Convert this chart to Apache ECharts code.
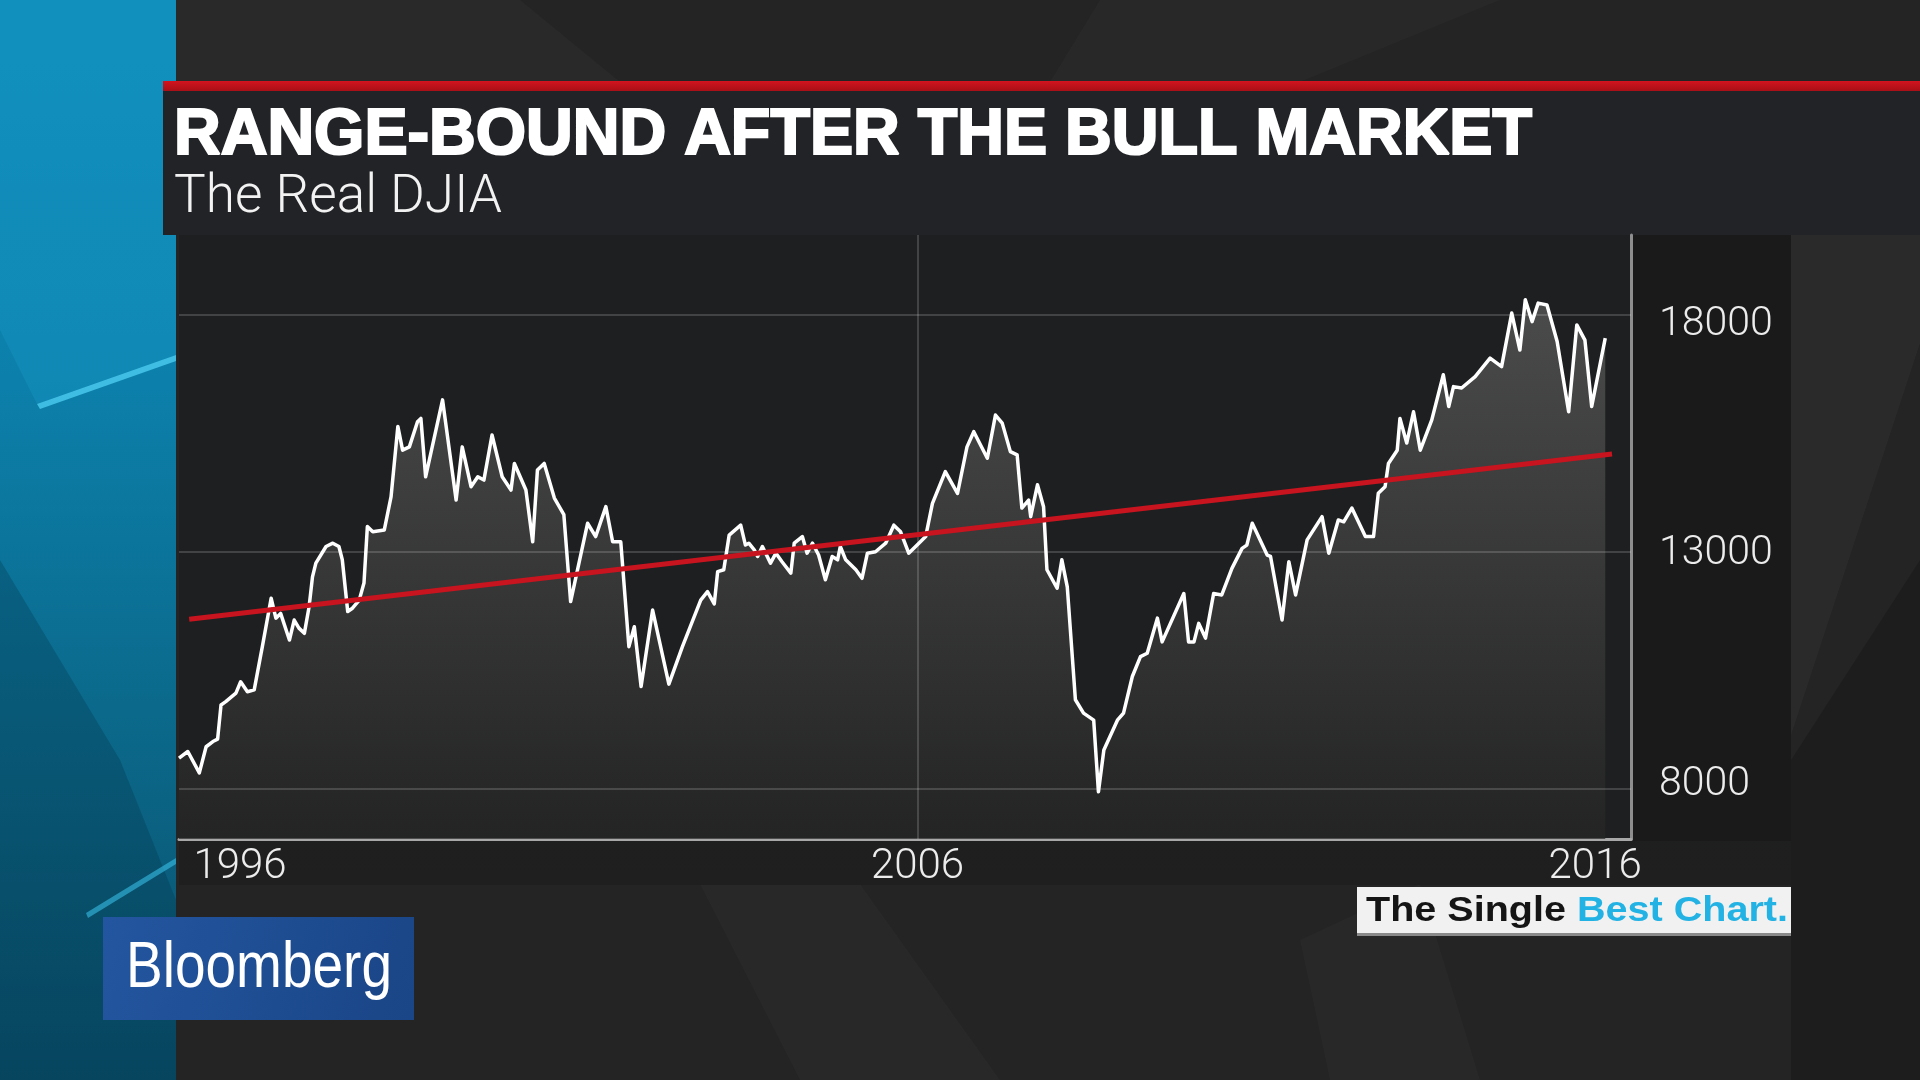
<!DOCTYPE html>
<html><head><meta charset="utf-8">
<script src="https://cdn.jsdelivr.net/npm/echarts@6/dist/echarts.min.js"></script>
<style>html,body{margin:0;padding:0;background:#242424;overflow:hidden}#c{width:1920px;height:1080px}</style>
</head><body><div id="c"></div>
<script>
// ---- data (decimal year, real DJIA level) ----
const years = [1995.10,1995.23,1995.40,1995.50,1995.60,1995.67,1995.72,1995.79,1995.94,1996.01,1996.11,1996.21,1996.33,1996.46,1996.53,1996.60,1996.73,1996.80,1996.87,1996.95,1997.02,1997.07,1997.12,1997.27,1997.37,1997.46,1997.51,1997.59,1997.66,1997.76,1997.83,1997.88,1997.96,1998.13,1998.23,1998.33,1998.40,1998.50,1998.62,1998.67,1998.74,1998.99,1999.19,1999.28,1999.41,1999.51,1999.60,1999.72,1999.87,2000.00,2000.05,2000.22,2000.32,2000.39,2000.49,2000.64,2000.78,2000.88,2001.13,2001.25,2001.40,2001.50,2001.62,2001.74,2001.82,2001.92,2002.09,2002.33,2002.53,2002.80,2002.90,2003.00,2003.05,2003.14,2003.22,2003.39,2003.46,2003.51,2003.59,2003.64,2003.71,2003.83,2003.91,2004.00,2004.13,2004.18,2004.30,2004.37,2004.45,2004.54,2004.64,2004.74,2004.82,2004.86,2004.94,2005.09,2005.18,2005.26,2005.38,2005.53,2005.65,2005.75,2005.87,2006.02,2006.12,2006.22,2006.41,2006.59,2006.73,2006.83,2007.03,2007.15,2007.25,2007.37,2007.47,2007.54,2007.64,2007.67,2007.77,2007.86,2007.91,2008.06,2008.13,2008.21,2008.33,2008.45,2008.60,2008.67,2008.75,2008.95,2009.04,2009.17,2009.29,2009.39,2009.54,2009.61,2009.93,2010.00,2010.08,2010.15,2010.25,2010.37,2010.49,2010.64,2010.79,2010.86,2010.94,2011.16,2011.21,2011.38,2011.48,2011.58,2011.75,2011.97,2012.07,2012.21,2012.29,2012.41,2012.61,2012.73,2012.80,2012.90,2012.95,2013.08,2013.12,2013.22,2013.32,2013.42,2013.59,2013.76,2013.84,2013.91,2014.03,2014.23,2014.45,2014.62,2014.77,2014.89,2014.97,2015.07,2015.16,2015.29,2015.44,2015.61,2015.73,2015.85,2015.95,2016.15];
const djia = [8650,8790,8340,8890,9000,9050,9770,9840,10020,10260,10050,10090,11000,12020,11600,11700,11140,11560,11390,11280,11840,12470,12760,13110,13180,13110,12830,11740,11810,11980,12340,13530,13420,13460,14160,15640,15140,15210,15740,15810,14580,16200,14090,15210,14370,14580,14510,15460,14580,14300,14860,14300,13210,14720,14860,14130,13780,11950,13600,13320,13950,13210,13210,11000,11420,10160,11770,10210,11000,11980,12160,11900,12580,12620,13350,13560,13140,13180,13040,12900,13110,12760,12970,12790,12550,13180,13320,12970,13180,12930,12410,12900,12830,13110,12830,12620,12440,12970,13000,13180,13560,13420,12970,13180,13320,14020,14690,14230,15210,15530,14970,15880,15710,15110,15040,13920,14090,13740,14410,13950,12620,12230,12830,12260,9880,9600,9450,7940,8820,9450,9600,10370,10790,10860,11600,11100,12120,11100,11100,11490,11180,12120,12090,12650,13070,13140,13600,12930,12900,11560,12790,12090,13250,13740,12970,13670,13630,13920,13320,13320,14230,14370,14860,15140,15810,15290,15950,15140,15780,16730,16060,16480,16450,16690,17080,16900,18030,17250,18310,17850,18240,18200,17430,15950,17780,17460,16060,17500];
const trendYears = [1995.25, 2016.25];
const trendValues = [11576, 15060];
const xTickLabels = ['1996', '2006', '2016'];
const yTickLabels = ['8000', '13000', '18000'];
const gridYears = [2006];
const titleText = 'RANGE-BOUND AFTER THE BULL MARKET';
const subtitleText = 'The Real DJIA';

// ---- build ----
const pairs = years.map((y, i) => [y, djia[i]]);
const trendPairs = trendYears.map((y, i) => [y, trendValues[i]]);
const xTicks = xTickLabels.map(Number);
const yTicks = yTickLabels.map(Number);

const mctx = document.createElement('canvas').getContext('2d');
function fit(text, font, w) { mctx.font = font; return w / mctx.measureText(text).width; }

const narrowFam = '"Liberation Sans Narrow", "Liberation Sans", sans-serif';
const titleFont = 'bold 65px "Liberation Sans", sans-serif';
const subFont = '300 53px Roboto, sans-serif';
const sbcFont = 'bold 35px ' + narrowFam;
const bbFont = '64px "Liberation Sans", sans-serif';

const chart = echarts.init(document.getElementById('c'), null, {renderer: 'canvas', width: 1920, height: 1080});

const gridColor = 'rgba(255,255,255,0.16)';
const markData = yTicks.map(v => ({yAxis: v})).concat(gridYears.map(v => ({xAxis: v})));
const yLabelBase = {color: '#ececec', fontSize: 41, fontFamily: 'Roboto', fontWeight: 300};
// small per-label nudges so the numbers sit where the reference puts them
const yRich = {
  t0: Object.assign({padding: [0, 0, 8, 0]}, yLabelBase),
  t1: Object.assign({padding: [4, 0, 0, 0]}, yLabelBase),
  t2: Object.assign({padding: [21, 0, 0, 0]}, yLabelBase)
};

chart.setOption({
  animation: false,
  backgroundColor: '#242424',
  grid: {left: 179, right: 289, top: 235, bottom: 241, show: true, backgroundColor: '#1e1f21', borderWidth: 0},
  xAxis: {
    type: 'value', min: 1995.10, max: 2016.53,
    axisLine: {show: true, lineStyle: {color: '#a8a8a8', width: 3}},
    axisTick: {show: false},
    splitLine: {show: false},
    axisLabel: {customValues: xTicks, formatter: v => String(Math.round(v)), color: '#ececec',
      fontSize: 42, fontFamily: 'Roboto', fontWeight: 300, margin: 7, lineHeight: 42}
  },
  yAxis: {
    type: 'value', position: 'right', min: 6946, max: 19675,
    axisLine: {show: true, lineStyle: {color: '#8e8e8e', width: 3}},
    axisTick: {show: false},
    splitLine: {show: false},
    axisLabel: Object.assign({customValues: yTicks, margin: 28,
      formatter: v => '{t' + yTicks.indexOf(v) + '|' + String(v) + '}', rich: yRich}, yLabelBase)
  },
  series: [
    {
      type: 'line', data: pairs, z: 1, showSymbol: false, silent: true,
      lineStyle: {width: 0, opacity: 0},
      areaStyle: {color: new echarts.graphic.LinearGradient(0, 0, 0, 1, [
        {offset: 0, color: '#5e5e5e'}, {offset: 0.5, color: '#424242'}, {offset: 1, color: '#262626'}])},
      markLine: {z: 2, silent: true, symbol: 'none', label: {show: false},
        lineStyle: {color: gridColor, width: 2, type: 'solid'}, emphasis: {disabled: true}, data: markData}
    },
    {
      type: 'line', data: pairs, z: 3, showSymbol: false, silent: true,
      lineStyle: {color: '#ffffff', width: 3.5, join: 'round'}
    },
    {
      type: 'line', data: trendPairs, z: 4, showSymbol: false, silent: true,
      lineStyle: {color: '#c7141e', width: 5}
    }
  ],
  graphic: [
    // teal band at left
    {type: 'rect', z: -20, shape: {x: 0, y: 0, width: 176, height: 1080},
      style: {fill: new echarts.graphic.LinearGradient(0, 0, 0, 1, [
        {offset: 0, color: '#0e8ab7'}, {offset: 0.35, color: '#0c80ab'}, {offset: 0.65, color: '#0b6a8c'}, {offset: 1, color: '#0a4f6a'}])}},
    {type: 'polygon', z: -19, shape: {points: [[0, 0], [176, 0], [176, 355], [37, 404], [0, 330]]}, style: {fill: 'rgba(30,170,220,0.22)'}},
    {type: 'polygon', z: -19, shape: {points: [[0, 560], [120, 760], [176, 900], [176, 1080], [0, 1080]]}, style: {fill: 'rgba(0,40,60,0.25)'}},
    {type: 'polygon', z: -19, shape: {points: [[37, 404], [176, 355], [176, 361], [40, 409]]}, style: {fill: 'rgba(80,210,245,0.75)'}},
    {type: 'polygon', z: -19, shape: {points: [[176, 858], [176, 864], [88, 918], [86, 913]]}, style: {fill: 'rgba(60,200,240,0.55)'}},
    // background facets
    {type: 'polygon', z: -18, shape: {points: [[176, 0], [520, 0], [620, 82], [176, 82]]}, style: {fill: 'rgba(255,255,255,0.025)'}},
    {type: 'polygon', z: -18, shape: {points: [[1100, 0], [1500, 0], [1300, 82], [1050, 82]]}, style: {fill: 'rgba(255,255,255,0.02)'}},
    {type: 'polygon', z: -18, shape: {points: [[1791, 235], [1920, 235], [1920, 343], [1791, 735]]}, style: {fill: 'rgba(255,255,255,0.03)'}},
    {type: 'polygon', z: -18, shape: {points: [[1791, 760], [1920, 560], [1920, 1080], [1791, 1080]]}, style: {fill: 'rgba(0,0,0,0.18)'}},
    {type: 'polygon', z: -18, shape: {points: [[700, 884], [860, 884], [1000, 1080], [800, 1080]]}, style: {fill: 'rgba(255,255,255,0.02)'}},
    {type: 'polygon', z: -18, shape: {points: [[1300, 940], [1420, 884], [1480, 1080], [1330, 1080]]}, style: {fill: 'rgba(255,255,255,0.02)'}},
    // red bar + title panel
    {type: 'rect', z: -10, shape: {x: 163, y: 91, width: 1757, height: 144}, style: {fill: '#222327'}},
    {type: 'rect', z: -10, shape: {x: 163, y: 81, width: 1757, height: 10},
      style: {fill: new echarts.graphic.LinearGradient(0, 0, 0, 1, [{offset: 0, color: '#d3141f'}, {offset: 1, color: '#a90f17'}])}},
    // chart panel
    {type: 'rect', z: -10, shape: {x: 179, y: 235, width: 1612, height: 650},
      style: {fill: new echarts.graphic.LinearGradient(0, 0, 0, 1, [{offset: 0, color: '#1c1d1f'}, {offset: 1, color: '#1f1f1f'}])}},
    {type: 'rect', z: -9, shape: {x: 1633, y: 235, width: 158, height: 606}, style: {fill: '#1a1a1b'}},
    // texts
    {type: 'text', z: 100, x: 174, y: 136, scaleX: fit(titleText, titleFont, 1358),
      style: {text: titleText, font: titleFont, fill: '#ffffff', stroke: '#ffffff', lineWidth: 2.2, verticalAlign: 'middle', align: 'left'}},
    {type: 'text', z: 100, x: 174, y: 199, scaleX: fit(subtitleText, subFont, 328),
      style: {text: subtitleText, font: subFont, fill: '#f2f2f2', verticalAlign: 'middle', align: 'left'}},
    // The Single Best Chart.
    {type: 'rect', z: 100, shape: {x: 1357, y: 887, width: 434, height: 47}, style: {fill: '#f1f1f1'}},
    {type: 'rect', z: 100, shape: {x: 1357, y: 933, width: 434, height: 3}, style: {fill: '#8a8a8a'}},
    {type: 'text', z: 101, x: 1366, y: 911, scaleX: fit('The Single Best Chart.', sbcFont, 422),
      style: {text: '{a|The Single }{b|Best Chart.}', verticalAlign: 'middle', align: 'left',
        rich: {a: {fill: '#151515', fontSize: 35, fontWeight: 'bold', fontFamily: narrowFam},
               b: {fill: '#22b2e3', fontSize: 35, fontWeight: 'bold', fontFamily: narrowFam}}}},
    // Bloomberg logo
    {type: 'rect', z: 100, shape: {x: 103, y: 917, width: 311, height: 103},
      style: {fill: new echarts.graphic.LinearGradient(0, 0, 1, 1, [{offset: 0, color: '#2356a0'}, {offset: 1, color: '#1a4586'}])}},
    {type: 'text', z: 101, x: 126, y: 969, scaleX: fit('Bloomberg', bbFont, 266),
      style: {text: 'Bloomberg', font: bbFont, fill: '#ffffff', verticalAlign: 'middle', align: 'left'}}
  ]
});
</script>
</body></html>
